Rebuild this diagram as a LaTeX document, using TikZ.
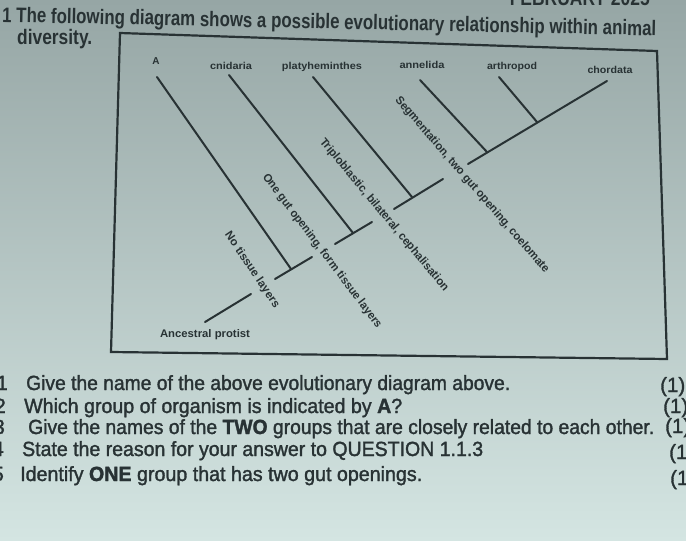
\documentclass[tikz,border=0pt]{standalone}
\usepackage{fontspec}
\usepackage{graphicx}
\setmainfont{Liberation Sans}
\newfontfamily\qfont[FakeBold=1.6]{Liberation Sans}
\definecolor{ink}{RGB}{40,50,52}
\definecolor{bgtop}{RGB}{150,166,165}
\definecolor{bgmid}{RGB}{193,211,209}
\definecolor{bgbot}{RGB}{212,229,226}
\newcommand\fitw[2]{\resizebox{#1pt}{\height}{#2}}
\begin{document}
\begin{tikzpicture}[x=1pt,y=-1pt,
  branch/.style={draw=ink, line width=2pt, line cap=round},
  frame/.style={draw=ink, line width=2.2pt, line join=miter},
  taxon/.style={font=\bfseries\fontsize{10}{11}\selectfont, text=ink, inner sep=0pt},
  trait/.style={font=\bfseries\fontsize{11.5}{12}\selectfont, text=ink, inner sep=0pt},
  headtext/.style={font=\bfseries\fontsize{21}{21}\selectfont, text=ink, inner sep=0pt},
  qtext/.style={font=\qfont\fontsize{20.5}{21}\selectfont, text=ink, inner sep=0pt, anchor=base west},
  qnum/.style={font=\qfont\fontsize{20.5}{21}\selectfont, text=ink, inner sep=0pt, anchor=base east},
  score/.style={font=\qfont\fontsize{20.5}{21}\selectfont, text=ink, inner sep=0pt, anchor=base west}
]
\useasboundingbox (0,0) rectangle (686,541);
\clip (0,0) rectangle (686,541);
\shade[top color=bgtop, middle color=bgmid, bottom color=bgbot] (0,0) rectangle (686,541);

% header
\node[headtext, anchor=base east] (date) at (650,5) {\fitw{140}{FEBRUARY 2025}};
\node[headtext, anchor=base west, rotate=-1.2] (head) at (2,22) {\fitw{654}{1 The following diagram shows a possible evolutionary relationship within animal}};
\node[headtext, anchor=base west] (head2) at (17,44) {\fitw{75}{diversity.}};

% frame
\draw[frame] (120,33) -- (657,51) -- (667,359) -- (111,352) -- cycle;

% tips and junctions
\coordinate (tA) at (157,77);  \coordinate (jA) at (291,269);
\coordinate (tC) at (229,75);  \coordinate (jC) at (353,233);
\coordinate (tP) at (313,77);  \coordinate (jP) at (412,197);
\coordinate (tN) at (420,80);  \coordinate (jN) at (487,152);
\coordinate (tR) at (499,77);  \coordinate (jR) at (537,122);
\coordinate (tH) at (607,81);
\coordinate (r0a) at (205,322); \coordinate (r0b) at (251,294);
\coordinate (s1a) at (275,279); \coordinate (s1b) at (312,257);
\coordinate (s2a) at (335,244); \coordinate (s2b) at (372,222);
\coordinate (s3a) at (394,209); \coordinate (s3b) at (443,179);
\coordinate (s4a) at (468,164);

\draw[branch] (tA) -- (jA);
\draw[branch] (tC) -- (jC);
\draw[branch] (tP) -- (jP);
\draw[branch] (tN) -- (jN);
\draw[branch] (tR) -- (jR);
\draw[branch] (r0a) -- (r0b);
\draw[branch] (s1a) -- (s1b);
\draw[branch] (s2a) -- (s2b);
\draw[branch] (s3a) -- (s3b);
\draw[branch] (s4a) -- (tH);

% taxon labels
\node[taxon] (labA) at (156,61) {A};
\node[taxon] (labC) at (231,66) {\fitw{42}{cnidaria}};
\node[taxon] (labP) at (322,67) {\fitw{80}{platyheminthes}};
\node[taxon] (labN) at (422,65) {\fitw{45}{annelida}};
\node[taxon] (labR) at (512,67) {\fitw{50}{arthropod}};
\node[taxon] (labH) at (610,70) {\fitw{45}{chordata}};
\node[taxon, font=\bfseries\fontsize{11}{11}\selectfont] (labO) at (205,335) {\fitw{90}{Ancestral protist}};

% trait labels
\node[trait, rotate=-55.9] (tr1) at (252,270) {\fitw{89}{No tissue layers}};
\node[trait, rotate=-52.9] (tr2) at (322,251) {\fitw{190}{One gut opening, form tissue layers}};
\node[trait, rotate=-50.2] (tr3) at (384,215) {\fitw{195}{Triploblastic, bilateral, cephalisation}};
\node[trait, rotate=-49.1] (tr4) at (472,185) {\fitw{229}{Segmentation, two gut opening, coelomate}};

% questions
\node[qnum] (n1) at (8,390) {1.1.1};
\node[qnum] (n2) at (6,413) {1.1.2};
\node[qnum] (n3) at (5,434) {1.1.3};
\node[qnum] (n4) at (4,456) {1.1.4};
\node[qnum] (n5) at (4,481) {1.1.5};
\node[qtext] (q1) at (26,390) {\fitw{484}{Give the name of the above evolutionary diagram above.}};
\node[qtext] (q2) at (24,413) {\fitw{378}{Which group of organism is indicated by \textbf{A}?}};
\node[qtext] (q3) at (28,434) {\fitw{626}{Give the names of the \textbf{TWO} groups that are closely related to each other.}};
\node[qtext] (q4) at (22,456) {\fitw{461}{State the reason for your answer to QUESTION 1.1.3}};
\node[qtext] (q5) at (20,481) {\fitw{402}{Identify \textbf{ONE} group that has two gut openings.}};
\node[score] (m1) at (660,392) {(1)};
\node[score] (m2) at (663,413) {(1)};
\node[score] (m3) at (665,433) {(1)};
\node[score] (m4) at (669,459) {(1)};
\node[score] (m5) at (670,485) {(1)};
\end{tikzpicture}
\end{document}
